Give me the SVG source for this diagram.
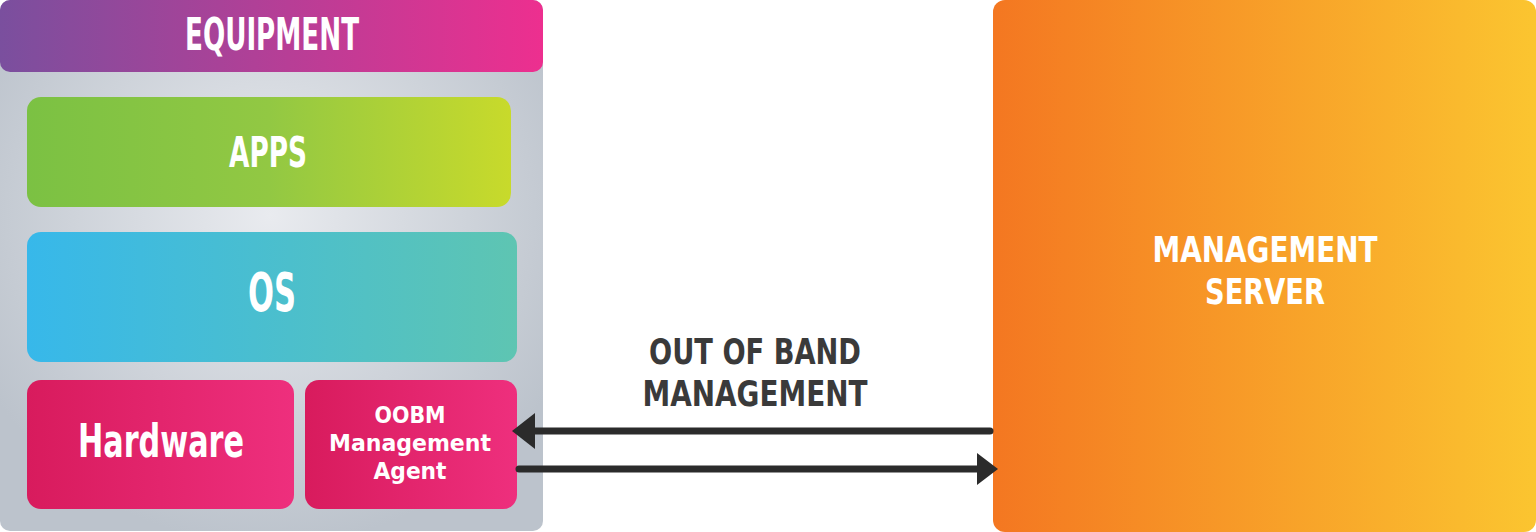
<svg xmlns="http://www.w3.org/2000/svg" width="1536" height="532" viewBox="0 0 1536 532">
<defs>
<style>
.t{font-family:"Liberation Sans Narrow","DejaVu Sans Condensed","DejaVu Sans",sans-serif;font-weight:bold;font-stretch:condensed;text-anchor:middle;fill:#ffffff}
.d{fill:#3a3a3a}
.ln{stroke:#2b2b2b;stroke-width:7;stroke-linecap:round;fill:none}
.hd{fill:#2b2b2b}
</style>
<radialGradient id="gGray" cx="270" cy="215" r="330" gradientUnits="userSpaceOnUse">
<stop offset="0" stop-color="#e9ebef"/>
<stop offset="1" stop-color="#bcc3cc"/>
</radialGradient>
<linearGradient id="gHead" x1="0" y1="0" x2="1" y2="0">
<stop offset="0" stop-color="#7a4f9e"/>
<stop offset="1" stop-color="#ed2f8f"/>
</linearGradient>
<linearGradient id="gApps" x1="0" y1="0" x2="1" y2="0">
<stop offset="0" stop-color="#7bc143"/>
<stop offset="0.5" stop-color="#92c843"/>
<stop offset="1" stop-color="#c8da2b"/>
</linearGradient>
<linearGradient id="gOs" x1="0" y1="0" x2="1" y2="0">
<stop offset="0" stop-color="#37b8ea"/>
<stop offset="1" stop-color="#5ec5b2"/>
</linearGradient>
<linearGradient id="gPink" x1="0" y1="0" x2="1" y2="0">
<stop offset="0" stop-color="#d81b5d"/>
<stop offset="1" stop-color="#ee2f7d"/>
</linearGradient>
<linearGradient id="gServer" x1="0" y1="0" x2="1" y2="0">
<stop offset="0" stop-color="#f47721"/>
<stop offset="1" stop-color="#fbc530"/>
</linearGradient>
</defs>
<rect width="1536" height="532" fill="#ffffff"/>

<g id="equipment">
<rect x="0" y="0" width="543" height="531" rx="10" fill="url(#gGray)"/>
<rect x="0" y="0" width="543" height="72" rx="10" fill="url(#gHead)"/>
<text class="t" x="272" y="50" font-size="44" textLength="174" lengthAdjust="spacingAndGlyphs">EQUIPMENT</text>
</g>

<g id="apps">
<rect x="27" y="97" width="484" height="110" rx="14" fill="url(#gApps)"/>
<text class="t" x="268" y="167" font-size="42" textLength="78" lengthAdjust="spacingAndGlyphs">APPS</text>
</g>

<g id="os">
<rect x="27" y="232" width="490" height="130" rx="14" fill="url(#gOs)"/>
<text class="t" x="272" y="311" font-size="54" textLength="48" lengthAdjust="spacingAndGlyphs">OS</text>
</g>

<g id="hardware">
<rect x="27" y="380" width="267" height="129" rx="14" fill="url(#gPink)"/>
<text class="t" x="161" y="457" font-size="46" textLength="166" lengthAdjust="spacingAndGlyphs">Hardware</text>
</g>

<g id="oobm-agent">
<rect x="305" y="380" width="212" height="129" rx="14" fill="url(#gPink)"/>
<text class="t" x="410" y="423" font-size="23.5" textLength="71" lengthAdjust="spacingAndGlyphs">OOBM</text>
<text class="t" x="410" y="451" font-size="23.5" textLength="162" lengthAdjust="spacingAndGlyphs">Management</text>
<text class="t" x="410" y="479" font-size="23.5" textLength="73" lengthAdjust="spacingAndGlyphs">Agent</text>
</g>

<g id="management-server">
<rect x="993" y="0" width="543" height="532" rx="12" fill="url(#gServer)"/>
<text class="t" x="1265" y="262" font-size="35.5" textLength="225" lengthAdjust="spacingAndGlyphs">MANAGEMENT</text>
<text class="t" x="1265" y="304" font-size="35.5" textLength="120" lengthAdjust="spacingAndGlyphs">SERVER</text>
</g>

<g id="connectors">
<line class="ln" x1="990" y1="431" x2="530" y2="431"/>
<polygon class="hd" points="512,431 535,413 535,449"/>
<line class="ln" x1="519" y1="469" x2="980" y2="469"/>
<polygon class="hd" points="998,469 977,453 977,485"/>
<text class="t d" x="755" y="364" font-size="35.5" textLength="212" lengthAdjust="spacingAndGlyphs">OUT OF BAND</text>
<text class="t d" x="755" y="406" font-size="35.5" textLength="225" lengthAdjust="spacingAndGlyphs">MANAGEMENT</text>
</g>
</svg>
